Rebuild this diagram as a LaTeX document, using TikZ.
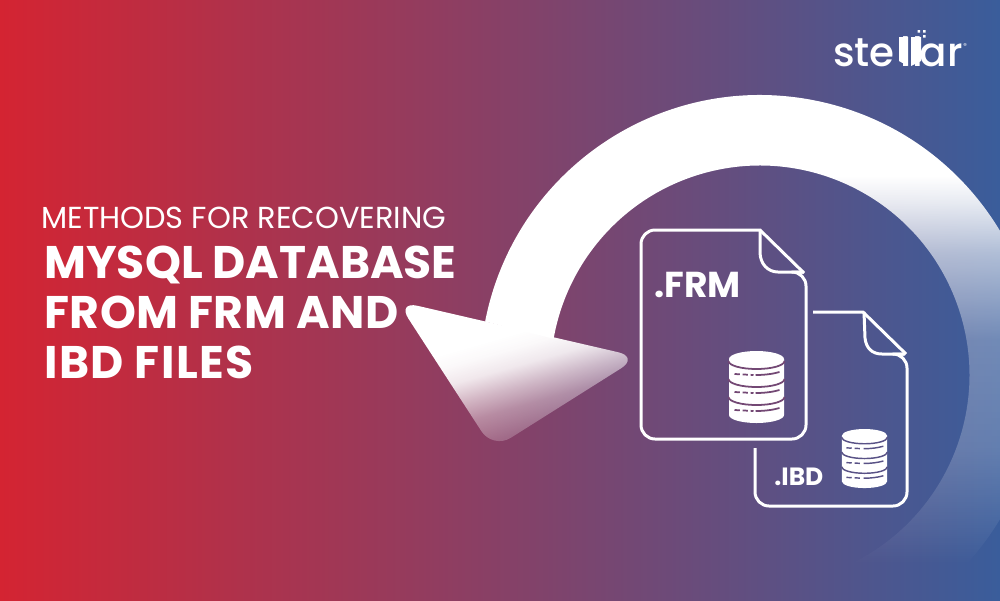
\documentclass[tikz,border=0pt]{standalone}
\usepackage{fontspec}
\setmainfont{Poppins}
\newfontfamily\logofont{Poppins Medium}
\usetikzlibrary{fadings}
\definecolor{bannerred}{RGB}{212,36,50}
\definecolor{bannerblue}{RGB}{58,93,155}
\tikzset{
	filebox/.style={draw=white,line width=1.7pt,line join=round,rounded corners=8pt},
	foldline/.style={draw=white,line width=1.7pt,line join=round},
	bannertext/.style={text=white,anchor=base west,inner sep=0pt,font=\bfseries\fontsize{26}{26}\selectfont}
}
% fadings, the stops between 25bp and 75bp cover the faded path
\pgfdeclareverticalshading{ringshade}{100bp}{color(0bp)=(pgftransparent!100); color(28.5bp)=(pgftransparent!100); color(35bp)=(pgftransparent!88); color(40bp)=(pgftransparent!79); color(50.5bp)=(pgftransparent!72); color(59bp)=(pgftransparent!40); color(64bp)=(pgftransparent!12); color(66.5bp)=(pgftransparent!0); color(100bp)=(pgftransparent!0)}
\pgfdeclarefading{ringfade}{\pgfuseshading{ringshade}}
\pgfdeclareverticalshading{headshade}{100bp}{color(0bp)=(pgftransparent!78); color(32bp)=(pgftransparent!78); color(40.4bp)=(pgftransparent!60); color(46.5bp)=(pgftransparent!38); color(53bp)=(pgftransparent!12); color(58.6bp)=(pgftransparent!3); color(63bp)=(pgftransparent!0); color(100bp)=(pgftransparent!0)}
\pgfdeclarefading{headfade}{\pgfuseshading{headshade}}
\def\ringpath{(485.1,321.6) arc (191:430:280) -- (831.6,571.9) arc (430:190:209.5) -- cycle}
% stack of three discs, #1 = top centre, #2 = scale, #3 = colour behind it
\newcommand{\dbstack}[3]{
	\begin{scope}[shift={#1},scale=#2]
		\fill[white] (-27.5,8) arc (180:360:27.5 and 8) -- (27.5,64) arc (0:180:27.5 and 8) -- cycle;
		\foreach \yy in {10,28,46}{
			\draw[#3,line width=#2*1pt] (-28,\yy) arc (180:0:28 and 8);
		}
		\foreach \yy in {23,41,59}{
			\draw[#3,line width=#2*1pt,dash pattern=on 3pt off 1.6pt] (-22,\yy) -- (-3,\yy+1);
			\draw[#3,line width=#2*1pt] (-1,\yy+1) .. controls (8,\yy+1) and (16,\yy) .. (23,\yy-2);
		}
	\end{scope}
}
\begin{document}
\begin{tikzpicture}[x=0.02cm,y=-0.02cm]
	\useasboundingbox (0,0) rectangle (1000,600);
	\fill[left color=bannerred,right color=bannerblue] (0,0) rectangle (1000,600);
	% arrow shaft
	\begin{scope}
		\clip (0,0) rectangle (830,600);
		\fill[white] \ringpath;
	\end{scope}
	\begin{scope}
		\clip \ringpath;
		\fill[white,path fading=ringfade] (830,90) rectangle (1000,600);
	\end{scope}
	% arrow head
	\fill[white,path fading=headfade,fading angle=25,rounded corners=12pt] (397,301) -- (639,357) -- (493,449) -- cycle;
	% front file
	\draw[filebox] (761,230) -- (641,230) -- (641,439) -- (806,439) -- (806,272) -- (804,272);
	\draw[foldline] (760,230) -- (804,273);
	\draw[foldline] (760,230) -- (760,252) .. controls (760,264) and (768,272) .. (778,272) -- (802,272);
	% back file
	\draw[foldline] (813,312) -- (863,312) -- (906,354);
	\draw[foldline] (864,312) -- (865,338) .. controls (866,348) and (872,354) .. (882,354) -- (904,354);
	\draw[filebox] (905,354) -- (907,354) -- (907,506) -- (755,506) -- (755,448);
	% labels
	\node[bannertext,font=\bfseries\fontsize{20.5}{20.5}\selectfont] (frm) at (654,297) {.FRM};
	\node[bannertext,font=\bfseries\fontsize{14.2}{14.2}\selectfont] (ibd) at (774,485) {.IBD};
	\dbstack{(756.5,351)}{1}{bannerblue!63!bannerred}
	\dbstack{(864.5,429)}{0.82}{bannerblue!80!bannerred}
	% title
	\node[bannertext,font=\fontsize{17.3}{17.3}\selectfont] (methods) at (41,228) {METHODS FOR RECOVERING};
	\node[bannertext] (mysql) at (44,278) {MYSQL DATABASE};
	\node[bannertext] (from) at (44,328) {\addfontfeature{LetterSpace=1}FROM FRM AND};
	\node[bannertext] (ibdfiles) at (44,378) {\addfontfeature{LetterSpace=3}IBD FILES};
	% logo, the bars stand over the two l
	\node[bannertext,font=\logofont\fontsize{23}{23}\selectfont] (logo) at (833,66) {ste\kern3pt l\kern1pt l\kern-2pt ar};
	\node[bannertext,font=\fontsize{4}{4}\selectfont] (regmark) at (963,48) {®};
	\fill[white] (899,37) -- (908,37) -- (908,66) -- (899,61) -- cycle;
	\fill[white] (911,37) -- (921,37) -- (921,61) -- (911,66) -- cycle;
	\fill[white] (917.5,30) rectangle (920,32.5) (923,30) rectangle (925.5,32.5) (923,35) rectangle (925.5,37.5);
\end{tikzpicture}
\end{document}
